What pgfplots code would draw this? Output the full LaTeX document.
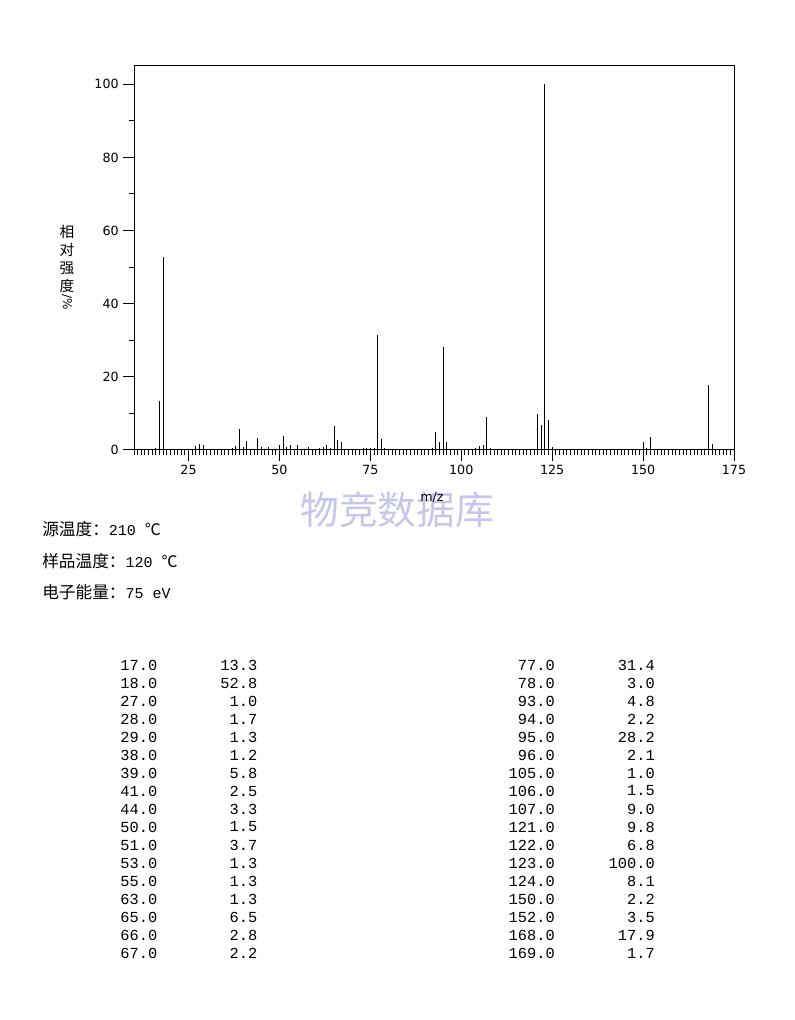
\documentclass[border=0pt]{standalone}
\usepackage{pgfplots}
\pgfplotsset{compat=1.18}
\usepackage{fontspec}
\setmainfont{DejaVu Sans}
\newfontfamily\cjk{Noto Sans CJK SC}
\newfontfamily\mono{Liberation Mono}
\newfontfamily\tickf{DejaVu Sans}
\definecolor{wm}{RGB}{198,198,236}
\begin{document}
\begin{tikzpicture}
\path[use as bounding box] (0,0) rectangle (595.5pt,765pt);
\begin{axis}[
  at={(100.5pt,427.5pt)}, anchor=south west,
  scale only axis, width=450pt, height=288pt,
  xmin=10, xmax=175, ymin=0, ymax=105,
  xtick={25,50,...,175}, minor xtick={10,11,...,175},
  ytick={0,20,...,100}, minor ytick={10,30,...,90},
  tick pos=left, tick align=outside,
  major tick length=8pt, minor tick length=3.75pt,
  every tick/.style={black, line width=0.75pt},
  axis line style={line width=0.75pt},
  /pgf/number format/assume math mode=true,
  tick label style={font=\tickf\fontsize{9.5}{11}\selectfont},
  clip=false,
]
\addplot[ycomb, black, line width=0.75pt, no marks] coordinates {
(15,0.3) (16,0.5) (17,13.3) (18,52.8) (19,0.3) (20,0.3) (26,0.3) (27,1.0) (28,1.7) (29,1.3)
(30,0.3) (31,0.3) (36,0.3) (37,0.5) (38,1.2) (39,5.8) (40,0.9) (41,2.5) (42,0.3) (43,0.3)
(44,3.3) (45,0.7) (46,0.3) (47,0.9) (48,0.3) (49,0.3) (50,1.5) (51,3.7) (52,0.9) (53,1.3)
(54,0.3) (55,1.3) (56,0.3) (57,0.3) (58,0.7) (59,0.3) (60,0.3) (61,0.6) (62,0.8) (63,1.3)
(64,0.5) (65,6.5) (66,2.8) (67,2.2) (68,0.3) (69,0.3) (70,0.3) (71,0.3) (72,0.3) (73,0.5)
(74,0.5) (75,0.5) (76,0.5) (77,31.4) (78,3.0) (79,0.5) (80,0.3) (81,0.3) (82,0.3) (83,0.3)
(84,0.3) (85,0.3) (86,0.3) (87,0.3) (88,0.3) (89,0.3) (90,0.3) (91,0.3) (92,0.5) (93,4.8)
(94,2.2) (95,28.2) (96,2.1) (97,0.3) (98,0.3) (103,0.3) (104,0.5) (105,1.0) (106,1.5) (107,9.0)
(108,0.5) (109,0.3) (110,0.3) (111,0.3) (121,9.8) (122,6.8) (123,100) (124,8.1) (125,0.8)
(133,0.3) (135,0.3) (149,0.3) (150,2.2) (151,0.5) (152,3.5) (153,0.3) (167,0.3) (168,17.9)
(169,1.7) (170,0.3)
};
\end{axis}
\begin{scope}[x=0.75pt, y=-0.75pt, shift={(0,765pt)}]
% y label
\foreach \c/\yy in {相/231.5, 对/250, 强/268, 度/286}
  \node[font=\cjk\fontsize{11}{12}\selectfont, inner sep=0] at (67,\yy) {\c};
\node[font=\tickf\fontsize{9}{10}\selectfont, inner sep=0, rotate=-90] at (67,302) {/\%};
% watermark
\node[font=\cjk\fontsize{29}{32}\selectfont, text=wm, inner sep=0] at (397,510) {物竞数据库};
\node[font=\tickf\fontsize{9.5}{11}\selectfont, inner sep=0] at (432,497) {m/z};
% conditions
\node[anchor=west, inner sep=0, font=\fontsize{11.25}{13}\selectfont] at (42,529) {{\cjk\fontsize{12.5}{14}\selectfont 源温度：}{\mono 210 }{\cjk\fontsize{12}{14}\selectfont ℃}};
\node[anchor=west, inner sep=0, font=\fontsize{11.25}{13}\selectfont] at (42,561) {{\cjk\fontsize{12.5}{14}\selectfont 样品温度：}{\mono 120 }{\cjk\fontsize{12}{14}\selectfont ℃}};
\node[anchor=west, inner sep=0, font=\fontsize{11.25}{13}\selectfont] at (42,592) {{\cjk\fontsize{12.5}{14}\selectfont 电子能量：}{\mono 75 eV}};
% tables
\foreach \a/\b [count=\i from 0] in {17.0/13.3, 18.0/52.8, 27.0/1.0, 28.0/1.7, 29.0/1.3, 38.0/1.2, 39.0/5.8, 41.0/2.5, 44.0/3.3, 50.0/1.5, 51.0/3.7, 53.0/1.3, 55.0/1.3, 63.0/1.3, 65.0/6.5, 66.0/2.8, 67.0/2.2} {
  \node[anchor=east, inner sep=0, font=\mono\fontsize{11.5}{13}\selectfont] at (157.5,665+18*\i) {\a};
  \node[anchor=east, inner sep=0, font=\mono\fontsize{11.5}{13}\selectfont] at (257.5,665+18*\i) {\b};
}
\foreach \a/\b [count=\i from 0] in {77.0/31.4, 78.0/3.0, 93.0/4.8, 94.0/2.2, 95.0/28.2, 96.0/2.1, 105.0/1.0, 106.0/1.5, 107.0/9.0, 121.0/9.8, 122.0/6.8, 123.0/100.0, 124.0/8.1, 150.0/2.2, 152.0/3.5, 168.0/17.9, 169.0/1.7} {
  \node[anchor=east, inner sep=0, font=\mono\fontsize{11.5}{13}\selectfont] at (555,665+18*\i) {\a};
  \node[anchor=east, inner sep=0, font=\mono\fontsize{11.5}{13}\selectfont] at (655,665+18*\i) {\b};
}
\end{scope}
\end{tikzpicture}
\end{document}
